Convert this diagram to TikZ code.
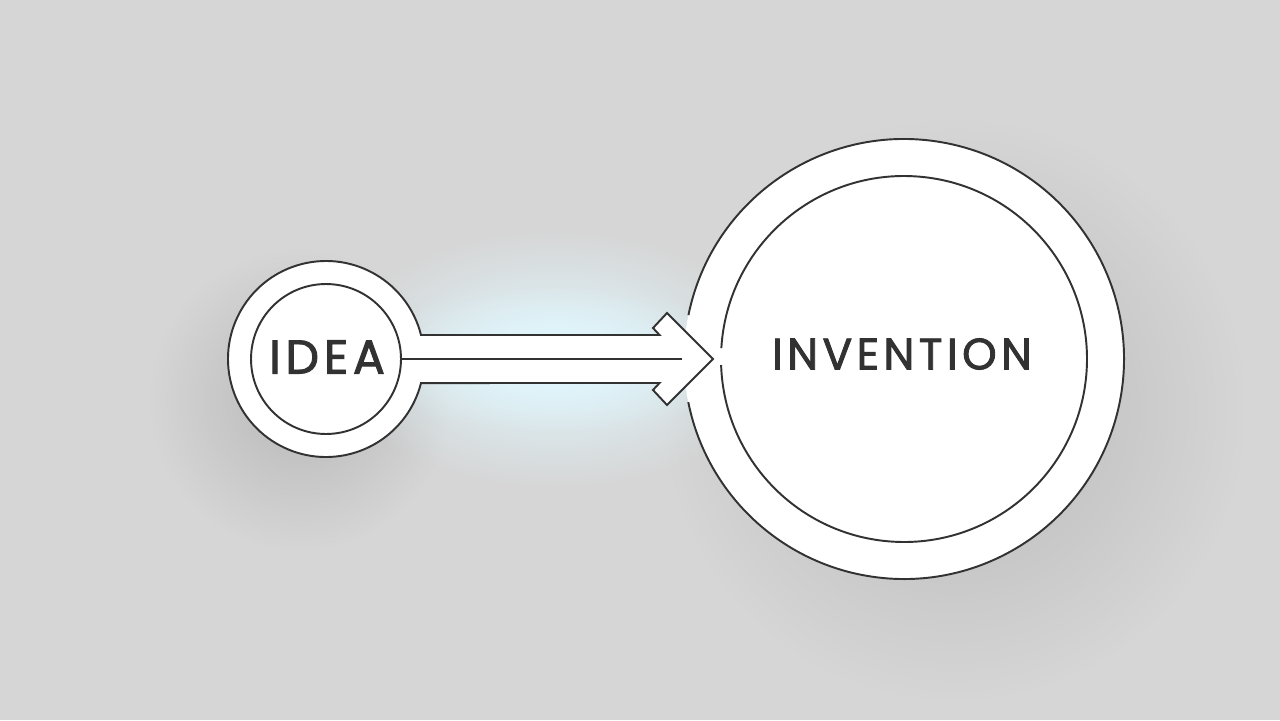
\documentclass[tikz,border=0pt]{standalone}
\usepackage{fontspec}
\usetikzlibrary{calc,fadings}

\newfontfamily\labelfont{Poppins}[LetterSpace=10, FakeBold=2]

\definecolor{bgray}{RGB}{214,214,214}
\definecolor{shadowgray}{RGB}{160,160,160}
\definecolor{glowblue}{RGB}{225,248,255}
\definecolor{inkgray}{RGB}{50,50,50}

\tikzfading[name=softspot, inner color=transparent!0, outer color=transparent!100]

\tikzset{
  outline/.style={draw=inkgray, line width=1.1pt},
  ringnode/.style={circle, outline, inner sep=0pt},
  wordnode/.style={inner sep=0pt, text=inkgray},
  shadowspot/.style={fill=shadowgray, path fading=softspot, fill opacity=0.55},
  glowspot/.style={fill=glowblue, path fading=softspot, fill opacity=#1}
}

\begin{document}
\begin{tikzpicture}[x=0.02cm, y=-0.02cm]

    % Background and canvas
    \fill[bgray] (0,0) rectangle (1280,720);
    \useasboundingbox (0,0) rectangle (1280,720);

    % Centres of the two circles and the arrow tip
    \coordinate (ideaC) at (326,359);
    \coordinate (invC) at (904,359);
    \coordinate (tipIn) at (682,359);
    \coordinate (tip) at (713,359);

    % Soft shadows and the glow behind the arrow
    \fill[shadowspot] (300,400) circle[radius=150];
    \fill[shadowspot] (955,410) circle[radius=290];
    \fill[glowspot=1] (555,359) ellipse[x radius=220, y radius=130];
    \fill[glowspot=0.9] (555,359) ellipse[x radius=190, y radius=75];

    % Big circle with its gaps at the arrow tip
    \fill[white] (invC) circle[radius=220];
    \draw[outline] ($(invC)+(191.5:220)$) arc[start angle=191.5, end angle=528.7, radius=220];
    \draw[outline] ($(invC)+(183.4:183)$) arc[start angle=183.4, end angle=538.1, radius=183];

    % Small circle merged with the hollow arrow
    \draw[outline, fill=white] ($(ideaC)+(-14.2:98)$) arc[start angle=-14.2, end angle=-345.8, radius=98]
        -- (659.5,383) -- (653,390) -- (667,405) -- (tip) -- (667,313) -- (653,328) -- (659.5,335) -- cycle;
    \node[ringnode, minimum size=3cm] (ideaCore) at (ideaC) {};
    \draw[outline] (ideaCore.east) -- (tipIn);

    % Labels
    \node[wordnode, font=\labelfont\fontsize{27pt}{27pt}\selectfont] (idea) at (327,357) {IDEA};
    \node[wordnode, font=\labelfont\fontsize{25pt}{25pt}\selectfont] (invention) at (902,354) {INVENTION};

\end{tikzpicture}
\end{document}
